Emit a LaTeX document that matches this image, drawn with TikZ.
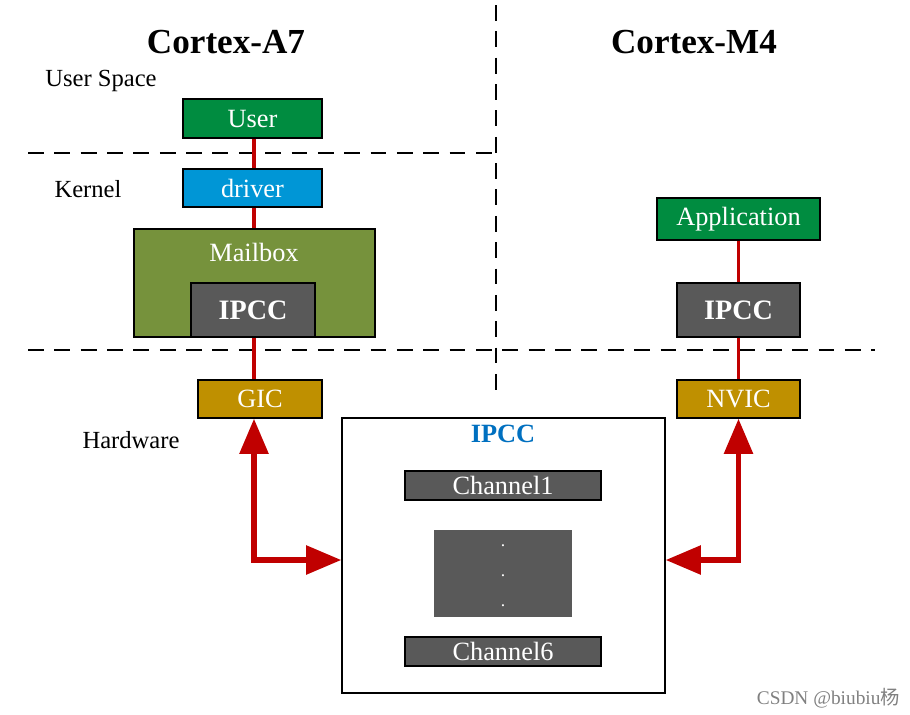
\documentclass[tikz,border=0pt]{standalone}
\usepackage{fontspec}
\setmainfont{Liberation Serif}
\newfontfamily\cjk{Noto Sans CJK SC}
\usetikzlibrary{arrows.meta}
\definecolor{ugreen}{RGB}{0,140,64}
\definecolor{dblue}{RGB}{0,150,214}
\definecolor{olive}{RGB}{118,146,60}
\definecolor{dgray}{RGB}{89,89,89}
\definecolor{gold}{RGB}{191,144,0}
\definecolor{ared}{RGB}{192,0,0}
\definecolor{tblue}{RGB}{0,112,192}
\begin{document}
\begin{tikzpicture}[x=0.02cm,y=-0.02cm,
  box/.style={draw=black,line width=0.8pt,text=white,font=\fontsize{15}{17}\selectfont},
  lbl/.style={font=\fontsize{14}{16}\selectfont},
  title/.style={font=\fontsize{20}{24}\selectfont\bfseries},
  sepline/.style={line width=1pt,dash pattern=on 9pt off 6pt},
  wire/.style={ared,line width=2.2pt},
  arr/.style={ared,line width=3pt,line join=miter,{Triangle[length=20pt,width=16pt]}-{Triangle[length=20pt,width=16pt]}}]
\useasboundingbox (0,0) rectangle (910,714);
\node[title] (ta7) at (226,42) {Cortex-A7};
\node[title] (tm4) at (694,42) {Cortex-M4};
\draw[sepline] (496,5) -- (496,390);
\draw[sepline] (28,153) -- (496,153);
\draw[sepline] (28,350) -- (875,350);
\node[lbl] (us) at (101,81) {User Space};
\node[lbl] (kn) at (88,189) {Kernel};
\node[lbl] (hw) at (131,440) {Hardware};
\node[box,fill=ugreen,minimum width=139*0.02cm,minimum height=39*0.02cm] (user) at (252.5,118.5) {User};
\node[box,fill=dblue,minimum width=139*0.02cm,minimum height=38*0.02cm] (drv) at (252.5,188) {driver};
\node[draw=black,line width=0.8pt,fill=olive,minimum width=241*0.02cm,minimum height=108*0.02cm] (mb) at (254.5,283) {};
\node[text=white,font=\fontsize{15}{17}\selectfont] (mbl) at (254,252) {Mailbox};
\node[box,fill=dgray,font=\fontsize{16}{18}\selectfont\bfseries,minimum width=124*0.02cm,minimum height=54*0.02cm] (ipa) at (253,310) {IPCC};
\node[box,fill=gold,minimum width=124*0.02cm,minimum height=38*0.02cm] (gic) at (260,399) {GIC};
\node[box,fill=ugreen,minimum width=163*0.02cm,minimum height=42*0.02cm] (app) at (738.5,219) {Application};
\node[box,fill=dgray,font=\fontsize{16}{18}\selectfont\bfseries,minimum width=123*0.02cm,minimum height=54*0.02cm] (ipm) at (738.5,310) {IPCC};
\node[box,fill=gold,minimum width=123*0.02cm,minimum height=38*0.02cm] (nvic) at (738.5,399) {NVIC};
\draw[wire] (user.south -| 254,0) -- (drv.north -| 254,0);
\draw[wire] (drv.south -| 254,0) -- (mb.north -| 254,0);
\draw[wire] (ipa.south -| 254,0) -- (gic.north -| 254,0);
\draw[wire] (app.south) -- (ipm.north);
\draw[wire] (ipm.south) -- (nvic.north);
\node[draw=black,line width=0.8pt,fill=white,minimum width=323*0.02cm,minimum height=275*0.02cm] (big) at (503.5,555.5) {};
\node[text=tblue,font=\fontsize{15}{17}\selectfont\bfseries] (bigl) at (503,434) {IPCC};
\node[box,fill=dgray,minimum width=196*0.02cm,minimum height=29*0.02cm,inner sep=0pt] (ch1) at (503,485.5) {Channel1};
\node[box,fill=dgray,minimum width=196*0.02cm,minimum height=29*0.02cm,inner sep=0pt] (ch6) at (503,651.5) {Channel6};
\node[fill=dgray,minimum width=138*0.02cm,minimum height=87*0.02cm] (blk) at (503,573.5) {};
\node[text=white] (d1) at (503,546) {.};
\node[text=white] (d2) at (503,576) {.};
\node[text=white] (d3) at (503,606) {.};
\coordinate (cl) at (254,560);
\coordinate (cr) at (738.5,560);
\draw[arr] (gic.south -| 254,0) -- (cl) -- (big.west |- cl);
\draw[arr] (big.east |- cr) -- (cr) -- (nvic.south);
\node[text=gray,font=\fontsize{11}{13}\selectfont,anchor=east] (wm) at (906,698) {CSDN @biubiu{\cjk 杨}};
\end{tikzpicture}
\end{document}
